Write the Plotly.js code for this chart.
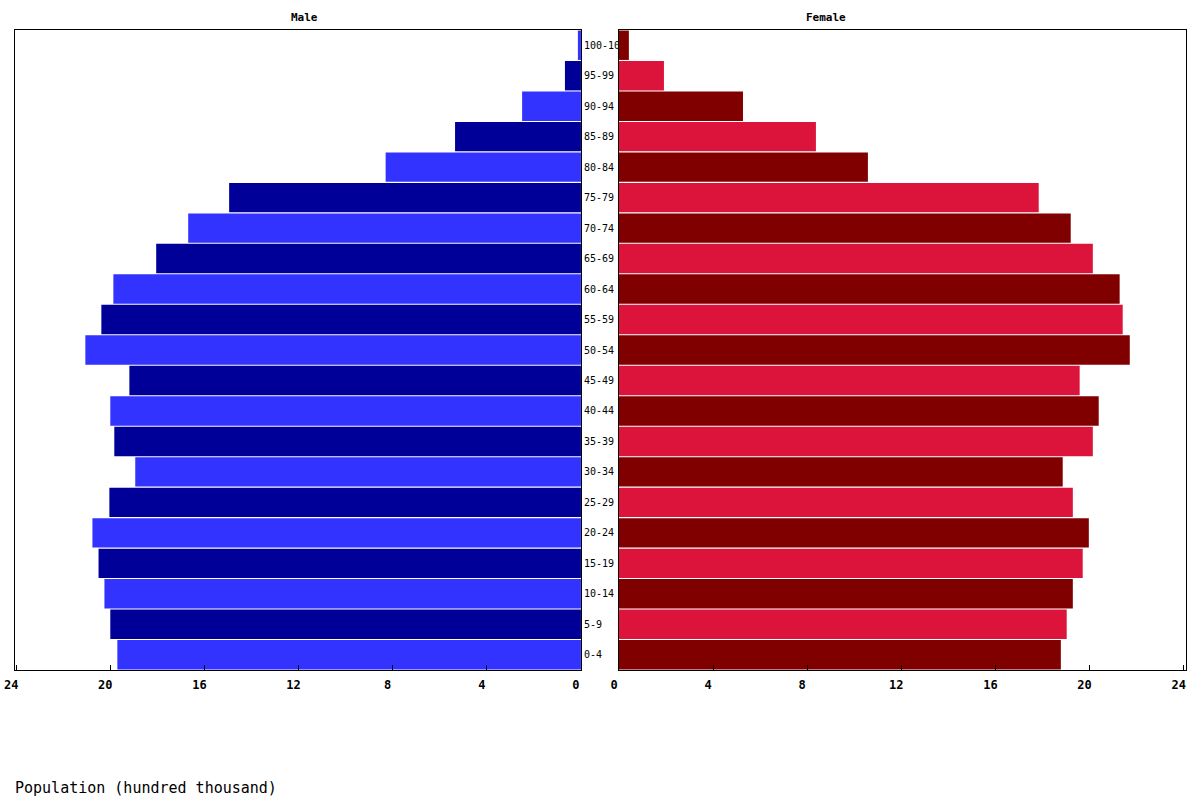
<!DOCTYPE html>
<html>
<head>
<meta charset="utf-8">
<script src="https://cdn.plot.ly/plotly-3.0.1.min.js"></script>
<style>html,body{margin:0;padding:0;background:#fff;}#chart{width:1200px;height:800px;}</style>
</head>
<body>
<div id="chart"></div>
<script>
// Age groups, bottom to top
var ageGroups = ["0-4","5-9","10-14","15-19","20-24","25-29","30-34","35-39","40-44","45-49","50-54","55-59","60-64","65-69","70-74","75-79","80-84","85-89","90-94","95-99","100-104"];
// Population in hundred thousand
var maleValues   = [19.7, 20.0, 20.25, 20.5, 20.76, 20.04, 18.94, 19.83, 20.0, 19.19, 21.06, 20.38, 19.87, 18.05, 16.69, 14.95, 8.3, 5.35, 2.5, 0.68, 0.13];
var femaleValues = [18.78, 19.03, 19.29, 19.71, 19.97, 19.29, 18.86, 20.14, 20.39, 19.58, 21.71, 21.41, 21.28, 20.14, 19.2, 17.84, 10.58, 8.37, 5.27, 1.91, 0.42];
var tickValues = [0, 4, 8, 12, 16, 20, 24];

var maleColors = ageGroups.map(function(_, i){ return i % 2 === 0 ? "#3333FF" : "#000099"; });
var femaleColors = ageGroups.map(function(_, i){ return i % 2 === 0 ? "#800000" : "#DC143C"; });

var font = "DejaVu Sans Mono, monospace";

var traces = [
  {type: "bar", orientation: "h", y: ageGroups, x: maleValues, xaxis: "x", yaxis: "y",
   marker: {color: maleColors, line: {width: 0}}, hoverinfo: "x+y", showlegend: false},
  {type: "bar", orientation: "h", y: ageGroups, x: femaleValues, xaxis: "x2", yaxis: "y2",
   marker: {color: femaleColors, line: {width: 0}}, hoverinfo: "x+y", showlegend: false}
];

var axisCommon = {
  showgrid: false, zeroline: false, showline: true, linecolor: "#000", linewidth: 1, mirror: true,
  ticks: "inside", ticklen: 5, tickcolor: "#000", tickmode: "array", tickvals: tickValues,
  tickfont: {family: font, size: 12, color: "#000", weight: "bold"}, ticklabelstandoff: 4, fixedrange: true
};

var layout = {
  width: 1200, height: 800,
  margin: {l: 15, r: 14, t: 30, b: 130},
  paper_bgcolor: "#fff", plot_bgcolor: "#fff",
  bargap: 0.035,
  font: {family: font, color: "#000"},
  xaxis: Object.assign({}, axisCommon, {domain: [0, 0.4833], range: [24.05, 0], anchor: "y", ticklabelshift: 5}),
  xaxis2: Object.assign({}, axisCommon, {domain: [0.5158, 1], range: [0, 24.1], anchor: "y2", ticklabelshift: -5}),
  yaxis: {domain: [0, 1], anchor: "x", side: "right", type: "category", categoryorder: "array", categoryarray: ageGroups,
    showgrid: false, zeroline: false, showline: true, linecolor: "#000", mirror: true, ticks: "",
    tickfont: {family: font, size: 10, color: "#000"}, ticklabelstandoff: 0, fixedrange: true},
  yaxis2: {domain: [0, 1], anchor: "x2", matches: "y", type: "category", showticklabels: false,
    showgrid: false, zeroline: false, showline: true, linecolor: "#000", mirror: true, ticks: "", fixedrange: true},
  annotations: [
    {text: "<b>Male</b>", xref: "paper", yref: "paper", x: 0.2468, y: 1.0203, xanchor: "center", yanchor: "middle",
     showarrow: false, font: {family: font, size: 11, color: "#000"}},
    {text: "<b>Female</b>", xref: "paper", yref: "paper", x: 0.6926, y: 1.0203, xanchor: "center", yanchor: "middle",
     showarrow: false, font: {family: font, size: 11, color: "#000"}},
    {text: "Population (hundred thousand)", xref: "paper", yref: "paper", x: -0.002, y: -0.184, xanchor: "left", yanchor: "middle",
     showarrow: false, font: {family: font, size: 15, color: "#000"}}
  ]
};

Plotly.newPlot("chart", traces, layout, {displayModeBar: false, staticPlot: true});
</script>
</body>
</html>
